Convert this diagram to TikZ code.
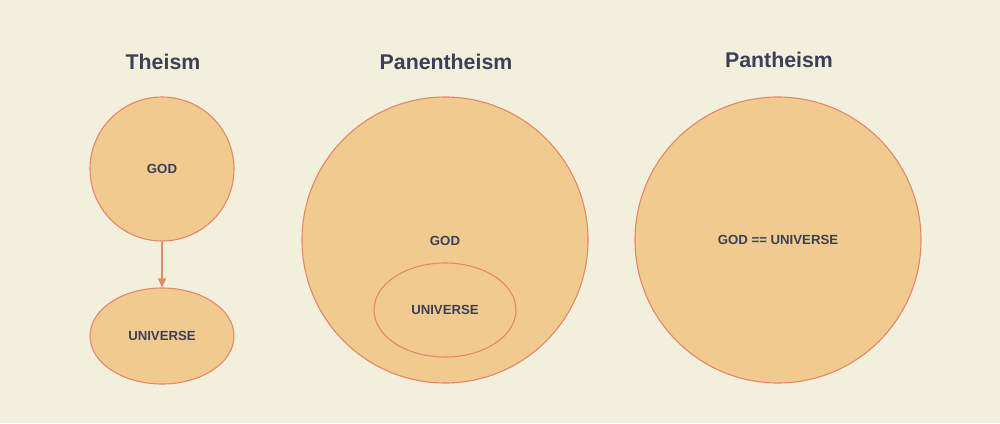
\documentclass[tikz,border=0pt]{standalone}
\usepackage{fontspec}
\setmainfont{Liberation Sans}
\usetikzlibrary{arrows.meta,shapes.geometric}
\definecolor{bg}{HTML}{F3EFDD}
\definecolor{fillc}{HTML}{F0CA8E}
\definecolor{linec}{HTML}{E8866A}
\definecolor{txt}{HTML}{3C3F58}
\tikzset{
  blob/.style={draw=linec, fill=fillc, line width=1.1pt},
  lbl/.style={text=txt, font=\bfseries\fontsize{13.2}{15}\selectfont},
  ttl/.style={text=txt, font=\bfseries\fontsize{21.3}{25}\selectfont},
}
\begin{document}
\begin{tikzpicture}[x=1pt,y=-1pt]
\fill[bg] (0,0) rectangle (1000,423);
\useasboundingbox (0,0) rectangle (1000,423);
% Theism
\node[ttl] (t1) at (163,62) {Theism};
\node[blob, circle, minimum size=144pt, inner sep=0pt] (god1) at (162,169) {};
\node[lbl] at (god1) {GOD};
\node[blob, ellipse, minimum width=144pt, minimum height=96pt, inner sep=0pt] (uni1) at (162,336) {};
\node[lbl] at (uni1) {UNIVERSE};
\draw[linec, line width=1.1pt, -{Triangle[length=9pt,width=8pt]}] (god1.south) -- (uni1.north);
% Panentheism
\node[ttl] (t2) at (446,62) {Panentheism};
\node[blob, circle, minimum size=286pt, inner sep=0pt] (god2) at (445,240) {};
\node[lbl] at (445,241) {GOD};
\node[blob, ellipse, minimum width=142pt, minimum height=94pt, inner sep=0pt] (uni2) at (445,310) {};
\node[lbl] at (uni2) {UNIVERSE};
% Pantheism
\node[ttl] (t3) at (779,60) {Pantheism};
\node[blob, circle, minimum size=286pt, inner sep=0pt] (god3) at (778,240) {};
\node[lbl] at (god3) {GOD == UNIVERSE};
\end{tikzpicture}
\end{document}
